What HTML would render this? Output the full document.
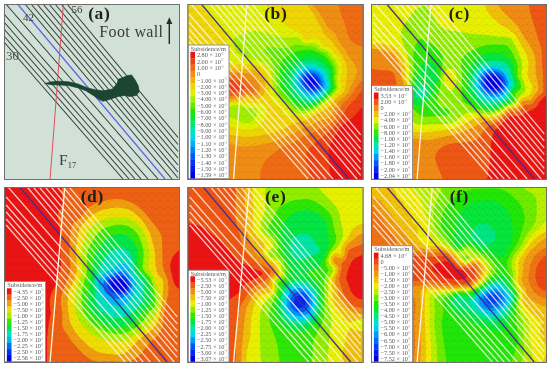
<!DOCTYPE html><html><head><meta charset="utf-8"><title>Subsidence</title><style>
html,body{margin:0;padding:0;background:#fff;}
body{width:550px;height:366px;overflow:hidden;}
svg{display:block;}
text{font-family:"Liberation Serif","DejaVu Serif",serif;}
.lab{font-size:17.5px;font-weight:bold;fill:#1e1e1e;letter-spacing:0.6px;}
.fw{font-size:16px;fill:#3a3a3a;letter-spacing:0.35px;}
.num{font-size:11px;fill:#3c3c3c;}
.num30{font-size:13px;fill:#4a4a4a;}
.fF{font-size:15.5px;fill:#3a3a3a;}
.fs{font-size:8.5px;}
.lt{font-size:6.3px;fill:#5a5a5a;}
.sp{font-size:3px;fill:#888;}
</style></head><body>
<svg width="550" height="366" viewBox="0 0 550 366">
<defs><clipPath id="clp"><rect x="0" y="0" width="176" height="176"/></clipPath>
<pattern id="mesh" width="8" height="7" patternUnits="userSpaceOnUse"><path d="M0,0H8M0,0L4,7L8,0M0,7H8" stroke="#000" stroke-opacity="0.05" stroke-width="0.45" fill="none"/><circle cx="0" cy="0" r="0.7" fill="#000" fill-opacity="0.12"/><circle cx="8" cy="0" r="0.7" fill="#000" fill-opacity="0.12"/><circle cx="4" cy="7" r="0.7" fill="#000" fill-opacity="0.12"/></pattern>
</defs>
<rect width="550" height="366" fill="#fff"/>
<g transform="translate(4,4)">
<rect x="0" y="0" width="176" height="176" fill="#d1e1d7"/>
<line x1="1.9" y1="0" x2="154" y2="175" stroke="#2f3a33" stroke-width="1.05"/>
<line x1="0" y1="10" x2="144" y2="175" stroke="#2f3a33" stroke-width="1.05"/>
<line x1="0" y1="18" x2="137" y2="175" stroke="#2f3a33" stroke-width="1.05"/>
<line x1="0" y1="25" x2="131" y2="175" stroke="#2f3a33" stroke-width="1.05"/>
<line x1="0" y1="32" x2="125" y2="175" stroke="#2f3a33" stroke-width="1.05"/>
<line x1="0" y1="38" x2="119" y2="175" stroke="#2f3a33" stroke-width="1.05"/>
<line x1="21" y1="0" x2="168" y2="175" stroke="#2f3a33" stroke-width="1.05"/>
<line x1="27" y1="0" x2="174" y2="174" stroke="#2f3a33" stroke-width="1.05"/>
<line x1="33" y1="0" x2="174" y2="168" stroke="#2f3a33" stroke-width="1.05"/>
<line x1="39" y1="0" x2="174" y2="161" stroke="#2f3a33" stroke-width="1.05"/>
<line x1="45" y1="0" x2="174" y2="154" stroke="#2f3a33" stroke-width="1.05"/>
<line x1="51" y1="0" x2="174" y2="147.5" stroke="#2f3a33" stroke-width="1.05"/>
<line x1="57" y1="0" x2="174" y2="140.5" stroke="#2f3a33" stroke-width="1.05"/>
<line x1="63" y1="0" x2="174" y2="133.5" stroke="#2f3a33" stroke-width="1.05"/>
<line x1="13.5" y1="0" x2="161" y2="175" stroke="#5868e8" stroke-width="1.2"/>
<line x1="59.4" y1="0" x2="46" y2="176" stroke="#e4505a" stroke-width="1"/>
<polygon points="40.8,79.5 47.5,77.8 55.1,77.2 64.6,77.8 74.2,80.1 83.7,83.9 91.3,85.8 99,86.8 108.5,84.9 113.3,79.1 114.2,75.3 119,73.4 123.8,71.5 127.6,70.9 131.4,76.3 134.3,82 135.2,87.7 132.4,91.5 125.7,92.5 120,91.5 114.2,92.5 108.5,94.4 102.8,96.3 99,97.3 95.2,95.4 89.4,91.5 81.8,86.8 74.2,83.9 64.6,81.6 55.1,81 47.5,80.7" fill="#1c4632" stroke="#163a28" stroke-width="0.6"/>
</g>
<text x="88.2" y="18.7" class="lab">(a)</text>
<text x="99.3" y="37.2" class="fw">Foot wall</text>
<line x1="169.3" y1="22" x2="169.3" y2="44" stroke="#2a2a2a" stroke-width="1.4"/>
<polygon points="169.3,17.3 166.3,24 172.3,24" fill="#2a2a2a"/>
<text x="71.5" y="13.2" class="num">56</text>
<text x="23" y="20.8" class="num">42</text>
<text x="6" y="60.3" class="num30">30</text>
<text x="59" y="165" class="fF">F<tspan class="fs" dy="2.6">17</tspan></text>
<g transform="translate(187.5,4)" clip-path="url(#clp)">
<rect x="-2" y="-2" width="181" height="181" fill="#eb1414"/>
<path fill="#ed4214" fill-rule="evenodd" d="M-2 -2l180 0 0 103 -5 3.9 -8.2 9.1 -8.8 5.7 -2.6 2.3 -10.8 19 -1.4 4 -.5 5 1.5 15 .7 13 -144.9 0 0 -180z"/>
<path fill="#ef6b14" fill-rule="evenodd" d="M-2 -2l180 0 0 85.7 -3 1.9 -6 8.4 -8.4 8 -6.4 11 -8.2 10.6 -4 3.8 -17.3 13.6 -2.9 3 -2 3 -1.6 4 -.1 5 4.6 15 .8 7 -125.5 0 0 -180zM42 76l-4 2 -2.2 3 -.2 2 .4 1.3 1.3 1.7 1.5 1 2.2 .7 10 1.1 3.4 -1.8 3 -3 -.2 -1 -1.5 -2 -4.4 -3 -5.3 -2 -4 0z"/>
<path fill="#f08e14" fill-rule="evenodd" d="M-2 -2l151.5 0 2.2 5 2.3 9 3.5 8 2.5 10 2.3 5 2.3 3 2.6 2 10.8 3.8 0 31.7 -4 1.7 -3 2.3 -7 11.5 -9.2 9 -3.5 6 -3.5 9 -1.8 2.6 -2 1.9 -3 1.9 -14 6.7 -11 4.3 -12 7 -10 4.2 -6.4 4.4 -7.2 6 -3.5 4 -2.7 5 -1.4 6 -.6 9 -74.2 0 0 -180zM38 71.9l-3.4 1.1 -3.9 2 -2.5 2 -2.1 3 -.6 3 .7 3 1.5 2 2.7 2 3.6 1.4 4 .8 12 .1 2 -.4 6 -3.5 7 .6 1.6 -1 .6 -1 .2 -3 -1 -2 -5.4 -5.1 -4 -2.8 -4 -1.3 -7 -1.3 -4 -.2 -4 .6z"/>
<path fill="#f0b10d" fill-rule="evenodd" d="M-2 -2l126.3 0 1.7 3.8 3.5 4.2 6.9 10 3.5 7 6.1 4.9 1.7 2.1 4 8 6.2 8 3.1 5.9 5.8 8.1 2.1 4 .7 3 -.5 3 -8.1 18 -3 3.9 -5.4 4.1 -1.9 2 -3.9 7 -2.8 6.5 -2 2.5 -3 1.2 -7 1.1 -8 5.1 -10 3.5 -8 4.5 -10 4.6 -13 4.7 -11 2.4 -17 1.4 -5 -.7 -11 -2.5 -15 -.7 -26 -3.3 0 -137.3zM38 68l-7 .8 -6 1.5 -5 2 -3.9 2.7 -3.2 4 -1.3 4 .5 4 1.7 3 3.2 2.6 4 1.8 5 1.1 6 .2 13 -1.3 7 -.1 2 -1 3 -2.3 2 -.6 6 1.5 2 -.1 2 -1 2.5 -2.8 1.1 -4 -.9 -5 -2.7 -4.3 -4 -3.3 -3.6 -1.4 -5.4 -.9 -11 -1.1 -7 0z"/>
<path fill="#f0d605" fill-rule="evenodd" d="M-2 -2l121.1 0 2.5 6 4.4 5.8 3 6.1 3 4.6 3.8 8.5 2.5 3 6 5 4.7 7.6 5.2 6.4 3.5 7 1.6 5 .4 5 -1.3 13 -1.6 6 -2.3 3 -6.5 4.9 -5 6.6 -5 4.5 -10.5 5 -8.5 5.3 -12 2.8 -12 6.3 -6 2.4 -21 4.7 -10 .7 -6 -.7 -14 -2.6 -6 -1.8 -5 -2.3 -5.3 -3.8 -1.8 -2 -1.7 -3 -.8 -3 .1 -2 1.2 -3 1.5 -2 2.4 -2 5.3 -3 7.3 -3 6.3 -2 3.5 -.6 8 -.2 2 -.8 4 -2.7 1.9 .3 3.1 1.7 2 .5 4 -.5 3 -1.3 2.6 -2.4 1.7 -4 .5 -5 -1 -7 -1 -3 -2.5 -3 -4.3 -2.5 -4 -1.3 -10 -.1 -19 -1.2 -24 -2.9 -6 .2 -8 1.4 0 -64.6z"/>
<path fill="#dff000" fill-rule="evenodd" d="M13.4 -2l64.4 0 1.2 2.9 1.7 2.1 6.3 6.1 7.4 8.9 5.6 4.8 3 1.7 8 2.9 2 1.6 3.4 5 1.6 1.4 2 .2 7 -1.8 3 .7 2 1.8 2.8 4.7 6.2 2 2.4 2 8 10 1.6 3 1.2 4 .2 5 -1.7 9 .9 8 -1 3 -10.6 10.3 -9 7.2 -13 7.2 -4 1.2 -5 .4 -9 -1 -5.2 -1.3 -.9 -1 -1.1 -4 -1.3 -2 -7.5 -4.6 -2 -2.4 -1.3 -5 -1.9 -19 -1.4 -4 -2.4 -3.2 -4 -2.7 -7 -2.6 -4 -.5 -8 .3 -13 -1.5 -5 -1.6 -2.9 -2.2 -1 -2 .2 -2 4.7 -7.7 1.8 -4.3 .3 -3 -.9 -4 -2.2 -3.9 -7 -6.4 -6.4 -8.7 -6.1 -7 -2.2 -4 -.9 -4zM42.7 99l4.3 -.7 10 .2 14 1 4 .9 3 1.6 1.3 2 .3 3 -.8 4 -1.3 3 -3.1 5 -2.9 3 -3 2 -3.5 1.4 -5 .8 -4 -.3 -4 -1 -15 -5.3 -3.4 -2.6 -1.9 -3 -.3 -4 1.8 -4 4 -4 5.5 -3z"/>
<path fill="#a4ef00" fill-rule="evenodd" d="M62.7 28l5.3 -.9 4 .3 25 6.2 3 .1 6 -.7 3 .2 2 .9 4 3.8 2 1.1 2 .3 8 -.5 2 1.1 3.9 4.1 5.1 1.4 2 1.1 8.4 10.5 2.2 5 .4 5 -1.3 8 1.2 8 -.3 2 -1.1 2 -9.5 9.3 -9 7 -6 3.4 -6 2.4 -5 .7 -5 -.7 -4 -2 -6 -7 -8 -5.9 -3 -3.8 -1.8 -5.4 -2.5 -16 -1.6 -4 -2.1 -3.1 -4 -3.2 -5 -2.3 -17 -4.5 -3.1 -1.9 -2.7 -3 -1.2 -3.2 -.9 -5.8 .1 -3 .8 -1.8 3 -1.8 12.7 -3.4zM45.7 101l5.5 0 8.8 2.7 7.4 1.3 1.4 1 .8 2 -.1 2 -1.2 3 -3.3 4.1 -2 1.4 -3 .8 -4 -.5 -12.2 -4.8 -1.8 -1.1 -1.7 -1.9 -.7 -2 .1 -2 .8 -2 1.6 -2 3.6 -2z"/>
<path fill="#63eb00" fill-rule="evenodd" d="M107.5 41l2.5 -.4 7 1.7 8 .1 2 .8 5 3.2 5.1 1.6 2.4 2 6.1 8 1.6 3 .9 3 .2 3 -.8 8 1.4 7 -.2 2 -.8 2 -7.9 8.2 -9 7.2 -6 3.3 -7 2.1 -3 .2 -3 -.4 -5 -2.3 -12.7 -12.3 -2.5 -3 -2.4 -6 -2.2 -17 -1.7 -7 -2.9 -6 -6.2 -7 -.4 -1 .9 -1 1.1 -.4 5 -.9 10 1.2 6 -.1 4 -.8 4.5 -2z"/>
<path fill="#1ce709" fill-rule="evenodd" d="M116.4 46l5.6 -.2 3 .5 10 4.1 3 2.4 5 6.2 2.2 4 .8 4 -.3 8 1.6 7 -.8 3 -2.3 3 -5.2 5.2 -8 6.5 -6 3.1 -8 1.6 -5 -.9 -5 -2.8 -3 -2.8 -8 -9.1 -2 -3.2 -1.2 -3.6 -1 -11 1 -10 1.2 -3.3 1.9 -2.7 4.1 -3 9 -4.5 3 -1 4.4 -.5z"/>
<path fill="#07e638" fill-rule="evenodd" d="M120.5 50l5.5 .6 7 2.9 4 3 4 4.3 1.4 2.2 1.2 3 .3 8 1.8 8 -1 3 -2.4 3 -4.3 4.4 -7 5.7 -5 2.6 -4 .8 -4 .2 -4 -.8 -4 -1.8 -3.1 -2.1 -2.7 -3 -6.5 -10 -1 -4 -.3 -7 .5 -4 1.4 -4 2.5 -4 2.7 -3 4.5 -3.5 4 -2.4 4 -1.4 4.5 -.7z"/>
<path fill="#00e675" fill-rule="evenodd" d="M120.5 55l4.5 .2 5 1.6 5 2.7 4 3.4 2.4 4.1 1 8 1.8 6 -.3 2 -1 2 -5.3 6 -8.6 6.8 -5 1.4 -4 -.2 -3.9 -1 -4.1 -1.8 -3 -2.1 -2.5 -3.1 -3.5 -6 -1.1 -3 -.5 -3 -.1 -4 .7 -4 1.5 -4 2 -3 3.5 -3.7 4 -2.8 4 -1.8 3.5 -.7z"/>
<path fill="#00e4b6" fill-rule="evenodd" d="M117 60l3 -.7 4 -.1 7 2 3.4 1.8 2.6 2.1 1.5 1.9 1.2 3 2.5 10 .1 2 -.7 2 -2.9 4 -2.7 2.6 -6 4.5 -3 1.5 -3 .3 -3 -.6 -4 -1.5 -4 -2.3 -4.2 -4.5 -2.2 -4 -1 -3 -.5 -3 .2 -4 .7 -3 1.3 -3 4.3 -5 5.4 -3z"/>
<path fill="#00d8ea" fill-rule="evenodd" d="M117.3 63l5.7 -.8 3 .3 4 1.3 5 3.3 1.6 1.9 1.3 3 2.2 8 0 2 -.6 2 -1.9 3 -2.6 2.6 -7 4.2 -2 .5 -3 -.3 -4 -1.3 -3 -1.7 -4.4 -4 -2.8 -5 -.9 -6 1 -5 1.7 -3 1.7 -2 5 -3z"/>
<path fill="#00b1f3" fill-rule="evenodd" d="M118.6 65l4.4 -.5 5 1 4.4 2.5 3.3 4 2.2 7 -.1 4 -2.3 4 -4.5 3.3 -5 1.5 -5 -.8 -5.2 -3 -2.1 -2 -2 -3 -1.1 -3 -.5 -3 .8 -5 1.1 -2.1 2 -2.4 4.6 -2.5z"/>
<path fill="#0086f5" fill-rule="evenodd" d="M118.9 67l4.1 -.5 4 .7 4 2.3 3 3.5 1.8 5 .2 4 -1.1 3 -2.9 2.9 -4 1.6 -5 0 -5 -2.3 -4 -4.2 -1.8 -5 .5 -5 2.3 -3.7 3.9 -2.3z"/>
<path fill="#005bf5" fill-rule="evenodd" d="M118.9 69l3.1 -.7 4 .5 3 1.5 2.9 2.7 1.6 3 .8 4 -.5 3 -2.2 3 -3.6 1.7 -4 .1 -4 -1.5 -3.8 -3.3 -1.9 -4 -.2 -4 .6 -2 1.3 -2 2.9 -2z"/>
<path fill="#0038f2" fill-rule="evenodd" d="M119.1 71l2.9 -.9 3 .3 3 1.3 2.4 2.3 1.6 3 .5 3 -.8 3 -1.7 1.9 -3 1.1 -3 0 -3 -1.1 -3.3 -2.9 -1.6 -3 -.3 -3 1.1 -3 2.2 -2z"/>
<path fill="#001aed" fill-rule="evenodd" d="M119.8 73l2.2 -.9 2 0 2.5 .9 2.4 2 1.2 2 .4 2 -.2 2 -1.3 2 -2 1 -2 .2 -3 -.9 -2 -1.4 -1.4 -1.9 -.8 -3 .4 -2 1.6 -2z"/>
<path fill="#0000e6" fill-rule="evenodd" d="M121.7 75l2.3 -.4 2.7 1.4 1.3 3 -.9 2 -1.1 .6 -2 0 -2.5 -1.6 -.7 -1 -.3 -2 1.2 -2z"/>
<rect x="0" y="0" width="176" height="176" fill="url(#mesh)"/>
<g transform="translate(1.5,0)">
<line x1="1.9" y1="0" x2="154" y2="175" stroke="#fff6f0" stroke-width="1.25" stroke-opacity="0.8"/>
<line x1="0" y1="10" x2="144" y2="175" stroke="#fff6f0" stroke-width="1.25" stroke-opacity="0.8"/>
<line x1="0" y1="18" x2="137" y2="175" stroke="#fff6f0" stroke-width="1.25" stroke-opacity="0.8"/>
<line x1="0" y1="25" x2="131" y2="175" stroke="#fff6f0" stroke-width="1.25" stroke-opacity="0.8"/>
<line x1="0" y1="32" x2="125" y2="175" stroke="#fff6f0" stroke-width="1.25" stroke-opacity="0.8"/>
<line x1="0" y1="38" x2="119" y2="175" stroke="#fff6f0" stroke-width="1.25" stroke-opacity="0.8"/>
<line x1="21" y1="0" x2="168" y2="175" stroke="#fff6f0" stroke-width="1.25" stroke-opacity="0.8"/>
<line x1="27" y1="0" x2="171.7" y2="171.3" stroke="#fff6f0" stroke-width="1.25" stroke-opacity="0.8"/>
<line x1="33" y1="0" x2="171.7" y2="165.3" stroke="#fff6f0" stroke-width="1.25" stroke-opacity="0.8"/>
<line x1="39" y1="0" x2="171.7" y2="158.3" stroke="#fff6f0" stroke-width="1.25" stroke-opacity="0.8"/>
<line x1="45" y1="0" x2="171.7" y2="151.3" stroke="#fff6f0" stroke-width="1.25" stroke-opacity="0.8"/>
<line x1="51" y1="0" x2="171.7" y2="144.8" stroke="#fff6f0" stroke-width="1.25" stroke-opacity="0.8"/>
<line x1="57" y1="0" x2="171.7" y2="137.8" stroke="#fff6f0" stroke-width="1.25" stroke-opacity="0.8"/>
<line x1="63" y1="0" x2="171.7" y2="130.8" stroke="#fff6f0" stroke-width="1.25" stroke-opacity="0.8"/>
</g>
<line x1="13.8" y1="0" x2="161.3" y2="175" stroke="#4a2a9a" stroke-width="1.3"/>
<line x1="59.4" y1="0" x2="46" y2="176" stroke="#fff6e0" stroke-width="1.3"/>
</g>
<rect x="188" y="45" width="41" height="133.7" fill="#fff" stroke="#8a8a8a" stroke-width="0.9"/>
<text x="190.7" y="50.6" class="lt">Subsidence/m</text>
<rect x="190.4" y="51.8" width="4.6" height="6.6" fill="#eb1414"/>
<text x="196.9" y="57.2" class="lt">2.80 × 10<tspan class="sp" dy="-2.2">-2</tspan></text>
<rect x="190.4" y="58.2" width="4.6" height="6.6" fill="#ed4214"/>
<text x="196.9" y="63.5" class="lt">2.00 × 10<tspan class="sp" dy="-2.2">-2</tspan></text>
<rect x="190.4" y="64.5" width="4.6" height="6.6" fill="#ef6b14"/>
<text x="196.9" y="69.8" class="lt">1.00 × 10<tspan class="sp" dy="-2.2">-2</tspan></text>
<rect x="190.4" y="70.8" width="4.6" height="6.6" fill="#f08e14"/>
<text x="196.9" y="76.2" class="lt">0</text>
<rect x="190.4" y="77.1" width="4.6" height="6.6" fill="#f0b10d"/>
<text x="196.9" y="82.5" class="lt">−1.00 × 10<tspan class="sp" dy="-2.2">-2</tspan></text>
<rect x="190.4" y="83.4" width="4.6" height="6.6" fill="#f0d605"/>
<text x="196.9" y="88.8" class="lt">−2.00 × 10<tspan class="sp" dy="-2.2">-2</tspan></text>
<rect x="190.4" y="89.8" width="4.6" height="6.6" fill="#dff000"/>
<text x="196.9" y="95.1" class="lt">−3.00 × 10<tspan class="sp" dy="-2.2">-2</tspan></text>
<rect x="190.4" y="96.1" width="4.6" height="6.6" fill="#a4ef00"/>
<text x="196.9" y="101.4" class="lt">−4.00 × 10<tspan class="sp" dy="-2.2">-2</tspan></text>
<rect x="190.4" y="102.4" width="4.6" height="6.6" fill="#63eb00"/>
<text x="196.9" y="107.8" class="lt">−5.00 × 10<tspan class="sp" dy="-2.2">-2</tspan></text>
<rect x="190.4" y="108.7" width="4.6" height="6.6" fill="#1ce709"/>
<text x="196.9" y="114.1" class="lt">−6.00 × 10<tspan class="sp" dy="-2.2">-2</tspan></text>
<rect x="190.4" y="115" width="4.6" height="6.6" fill="#07e638"/>
<text x="196.9" y="120.4" class="lt">−7.00 × 10<tspan class="sp" dy="-2.2">-2</tspan></text>
<rect x="190.4" y="121.4" width="4.6" height="6.6" fill="#00e675"/>
<text x="196.9" y="126.7" class="lt">−8.00 × 10<tspan class="sp" dy="-2.2">-2</tspan></text>
<rect x="190.4" y="127.7" width="4.6" height="6.6" fill="#00e4b6"/>
<text x="196.9" y="133" class="lt">−9.00 × 10<tspan class="sp" dy="-2.2">-2</tspan></text>
<rect x="190.4" y="134" width="4.6" height="6.6" fill="#00d8ea"/>
<text x="196.9" y="139.4" class="lt">−1.00 × 10<tspan class="sp" dy="-2.2">-1</tspan></text>
<rect x="190.4" y="140.3" width="4.6" height="6.6" fill="#00b1f3"/>
<text x="196.9" y="145.7" class="lt">−1.10 × 10<tspan class="sp" dy="-2.2">-1</tspan></text>
<rect x="190.4" y="146.6" width="4.6" height="6.6" fill="#0086f5"/>
<text x="196.9" y="152" class="lt">−1.20 × 10<tspan class="sp" dy="-2.2">-1</tspan></text>
<rect x="190.4" y="153" width="4.6" height="6.6" fill="#005bf5"/>
<text x="196.9" y="158.3" class="lt">−1.30 × 10<tspan class="sp" dy="-2.2">-1</tspan></text>
<rect x="190.4" y="159.3" width="4.6" height="6.6" fill="#0038f2"/>
<text x="196.9" y="164.6" class="lt">−1.40 × 10<tspan class="sp" dy="-2.2">-1</tspan></text>
<rect x="190.4" y="165.6" width="4.6" height="6.6" fill="#001aed"/>
<text x="196.9" y="171" class="lt">−1.50 × 10<tspan class="sp" dy="-2.2">-1</tspan></text>
<rect x="190.4" y="171.9" width="4.6" height="6.6" fill="#0000e6"/>
<text x="196.9" y="177.3" class="lt">−1.59 × 10<tspan class="sp" dy="-2.2">-1</tspan></text>
<text x="275.8" y="19" class="lab" text-anchor="middle">(b)</text>
<g transform="translate(371,4)" clip-path="url(#clp)">
<rect x="-2" y="-2" width="181" height="181" fill="#eb1414"/>
<path fill="#ee5714" fill-rule="evenodd" d="M-2 -2l180 0 0 87.7 -3 5.6 -5.9 5.7 -3 5 -2.1 2.3 -2 1.2 -5 1.9 -7 4.3 -3 .5 -6 -.5 -2 .6 -11.6 10.7 -3.8 4 -2 4 -1.1 5 -2 24 -2.6 18 -117.9 0 0 -180z"/>
<path fill="#f08b14" fill-rule="evenodd" d="M-2 -2l159.2 0 2.6 13 9.7 31 1.2 5 .2 12 1.2 11 0 9 .5 5 -.7 4 -1.7 2 -4.2 3.2 -3 4.9 -2 2 -2 .7 -4 -.3 -1.8 .5 -3.2 4.5 -3 2 -2 .2 -4 -.5 -2 .4 -11 9.4 -11.7 6 -3 3 -4.3 6.7 -4 3.3 -5 1.5 -11 1 -11 1.6 -5 1.9 -4.3 3 -2 2 -1.8 3 -.5 2 -.1 3 1 4 4.9 12 2 7 -74.2 0 0 -77 10.8 -9 14.4 -9 1.8 -2 .5 -2 -1.5 -7.1 -1 -2.2 -2 -2 -3 -1.1 -10 -.7 -10 -1.7 0 -66.2z"/>
<path fill="#f0bf0a" fill-rule="evenodd" d="M-2 -2l127.9 0 1.1 3 2.9 4 6.4 7 7.7 7.2 3 3.5 6 10.2 5.5 8.1 3.2 6 1.9 5 .9 4 .2 13 2.7 14 -.1 2 -.7 2 -6.6 8.7 -2 .9 -4 -.2 -2 .5 -2 2 -2.1 4.1 -1.9 1.5 -7.1 .5 -1.9 1 -7 6.2 -4 2.5 -3 1.2 -8 1.3 -5 1.5 -10 5.7 -12 5.1 -27 5.9 -5 .7 -12 -1.5 -14 .5 -5 -.9 -4 -1.6 -5 -3.8 -2.1 -2.8 -1.5 -3 -1.4 -7 .8 -8 2.4 -7 4.4 -7 5.1 -5 8.3 -5.2 .8 -.8 .2 -2 -2.1 -6 -.9 -9 -.9 -4 -3.1 -6.3 -3 -4.7 -3 -2.1 -10 -3.7 -12 -.5 0 -46.7z"/>
<path fill="#e8f000" fill-rule="evenodd" d="M-2 -2l114.6 0 3.6 9 3.2 5 9.6 8.4 10 5.9 3.4 2.7 2.4 3 8.8 15 2.3 5 1.3 5 .2 4 -.9 8 .2 3 1 3 2.8 5 .9 3 -.1 3 -1.3 3 -2.8 3 -5.2 1.7 -2 1.2 -3.8 6.1 -1.1 1 -6.1 1.1 -2 .9 -7 5.4 -4 2.4 -5 1.6 -12 -.1 -4.3 .7 -3.7 1.5 -12 6.7 -6 2.4 -7 1.4 -24 2.4 -9 -.9 -7 -2.9 -5.3 -3.6 -4.8 -5 -2.9 -5.2 -1.3 -5.8 .6 -6 2.8 -6 3.9 -4 6.5 -4 1.1 -2 -1.7 -9 -.6 -10 -1.2 -6 -2 -5 -2.3 -4 -2.8 -3.3 -3 -2.3 -14 -4.5 -11 .9 0 -41.8z"/>
<path fill="#90ee00" fill-rule="evenodd" d="M50.8 2l3.2 -.1 3 1.7 2 2.6 5.1 9.8 2.6 4 3.3 3.1 5 2.5 6 1.5 24 3.2 12 .7 10 1.5 8 .3 3 .8 3 2.2 2 3.1 3.9 8.1 3.5 9 .8 6 -.8 10 3.2 8 .9 4 -.1 2 -1 2 -5.4 5 -2.4 5 -1.6 1.9 -7 2.4 -9 5.9 -6 2.3 -5 .1 -13 -2 -5 0 -4 .8 -4 2 -4.8 4.6 -3.2 2.2 -4 1.4 -5 .7 -13 -.1 -9 .9 -5 -.7 -4 -2.4 -6 -7 -6.4 -5 -1.6 -2 -1.3 -3 -.2 -3 .6 -3 2.3 -4 2.2 -2 4.7 -3 .9 -1 .6 -2 -.6 -6 .3 -11 -.5 -7 -1.7 -7 -6 -19 -.5 -3 .4 -3 2.6 -6 8.2 -11.5 5 -5 4.8 -2.5zM77 65l-2 1.6 -2 3.3 -.5 2.1 .1 3 1.4 5.4 2 4.3 2 1.8 2 .3 2 -1.1 2.4 -3.7 1.2 -4 .1 -5 -1 -4 -1.9 -3 -2.8 -1.6 -3 .6z"/>
<path fill="#2de807" fill-rule="evenodd" d="M48.1 36l1.9 -.8 2 0 4 1.8 11 8 2.7 3 1.7 3 .7 5 -2.4 13 -.2 12 -2.9 14 -.2 3 .6 2.1 1.7 1.9 7.2 3 1.3 1 .8 1.2 .1 1.8 -.4 1 -1.7 1.3 -21 1.5 -4 -.4 -3 -1.7 -6 -5.7 -8 -3.8 -2.2 -3.2 -.3 -3 1.1 -3 1.7 -2 4.7 -3.3 1.6 -2.7 .2 -7 1.5 -7 .6 -6 -.6 -11 .4 -5 .8 -4 1.5 -4 3.1 -4zM115.5 41l5.5 -.5 11 .2 3 .6 3 2.2 4 6.5 4 9 .9 4 -.3 9 .6 2 2.5 5 .4 2 0 2 -.8 2 -5 5 0 5 -1.4 3 -6.9 3.1 -9 5 -4 1.4 -3 .4 -4 -.2 -4 -1 -9.9 -3.7 -6.4 -3 -2.6 -2 -1.5 -2 -1.1 -5 .8 -19 -1.2 -12 .9 -5 2.9 -4 5.8 -4 7.3 -3.6 8.5 -2.4z"/>
<path fill="#03e644" fill-rule="evenodd" d="M119.5 49l5.5 -.1 6 1.1 4 2 4 3.8 2.4 3.2 1.4 3 .9 10 3 7 .3 2 -1 2.5 -4.8 5.5 -.4 2 .7 4 -1.2 2 -13.3 6.4 -5 1.2 -4 .3 -4 -.7 -4.7 -2.2 -5.9 -4 -3.1 -3 -2 -3 -1.3 -3.6 -.8 -4.4 -.2 -5 .5 -6 1.4 -7 1.6 -4 1.9 -3 3.6 -3.6 5 -3.4 5 -2.1 4.5 -.9zM53.6 58l2.4 -.5 4 .4 2 .8 2 1.9 1 2.2 .6 3.2 .7 6 -.1 4 -4.7 14 -1.5 3 -8.2 8 -1.8 1 -2 .3 -10.8 -4.3 -1.9 -2 -.4 -2 1.3 -3 4.3 -3 1.8 -2 1.7 -8 5.6 -15 1.5 -3 2.5 -2z"/>
<path fill="#00e6a4" fill-rule="evenodd" d="M116.8 57l4.2 -.6 6 .4 5 1.3 4 2.4 2 2.1 1 1.9 2.1 8.5 2.3 6 -.4 3 -4.1 7 -1.5 6 -2.4 1.6 -5 2.3 -6 1.7 -5 .5 -3 -.4 -2.1 -.7 -3.1 -2 -3.3 -3 -3.3 -4 -2 -4 -1.1 -4 -.4 -4 .3 -4 1 -4 2 -4.3 2 -2.8 3 -2.9 4 -2.5 3.8 -1.5zM50.8 81l2.2 -.3 2.2 1.3 1.3 3 -.2 4 -1.3 2.2 -3 2.2 -3 .9 -2.1 -.3 -2.2 -1 -.7 -1 3.1 -8 1.9 -2.2 1.8 -.8z"/>
<path fill="#00d5f0" fill-rule="evenodd" d="M116.2 62l5.8 -.8 8 1.5 4 2.7 3 4.6 2.7 7 .3 4 -1 3 -3.6 7 -1.4 1.8 -2 1.3 -4 1.6 -4 .7 -4 -.1 -4 -.9 -3 -1.5 -2 -1.6 -4.7 -6.3 -1.2 -3 -.6 -4 .3 -4 .8 -3 1.5 -3 2.4 -3 3.5 -2.6 3.2 -1.4z"/>
<path fill="#0097f5" fill-rule="evenodd" d="M116.7 65l5.3 -.7 6 1.2 4 2.6 3.5 4.9 1.7 5 -.4 5 -2.8 5.5 -2 1.9 -2 1.2 -3 1.1 -3 .5 -7 -1.1 -4 -2.4 -2.4 -2.7 -1.9 -3 -1.3 -5 .1 -3 .7 -3 1.6 -3 1.8 -2 5.1 -3z"/>
<path fill="#0058f5" fill-rule="evenodd" d="M119 67l5 .1 4 1.4 4 3.5 2.2 4 .7 4 -1 4 -1.9 3 -4 2.7 -5 .8 -6 -1.4 -3.9 -3.1 -2.5 -4 -.8 -5 1.2 -4.2 1.2 -1.8 2.1 -2 4.7 -2z"/>
<path fill="#0026f0" fill-rule="evenodd" d="M117.5 70l3.5 -.7 4 .6 3 1.6 2.4 2.5 1.6 3.1 .3 3.9 -1.2 3 -2.1 2.3 -4 1.7 -4 -.2 -4 -1.6 -3 -3 -1.5 -3.2 -.1 -4 1.6 -3.4 3.5 -2.6z"/>
<path fill="#0000e6" fill-rule="evenodd" d="M121 72l3 .5 2 .9 1.8 1.6 1.2 2 .5 3 -.5 2 -1 1.4 -2 1.4 -3 .5 -3 -.6 -3 -2.1 -1.6 -2.6 -.3 -3 .9 -2.4 2 -1.8 3 -.8z"/>
<rect x="0" y="0" width="176" height="176" fill="url(#mesh)"/>
<g transform="translate(2.2,0)">
<line x1="1.9" y1="0" x2="154" y2="175" stroke="#fff6f0" stroke-width="1.25" stroke-opacity="0.8"/>
<line x1="0" y1="10" x2="144" y2="175" stroke="#fff6f0" stroke-width="1.25" stroke-opacity="0.8"/>
<line x1="0" y1="18" x2="137" y2="175" stroke="#fff6f0" stroke-width="1.25" stroke-opacity="0.8"/>
<line x1="0" y1="25" x2="131" y2="175" stroke="#fff6f0" stroke-width="1.25" stroke-opacity="0.8"/>
<line x1="0" y1="32" x2="125" y2="175" stroke="#fff6f0" stroke-width="1.25" stroke-opacity="0.8"/>
<line x1="0" y1="38" x2="119" y2="175" stroke="#fff6f0" stroke-width="1.25" stroke-opacity="0.8"/>
<line x1="21" y1="0" x2="168" y2="175" stroke="#fff6f0" stroke-width="1.25" stroke-opacity="0.8"/>
<line x1="27" y1="0" x2="171" y2="170.4" stroke="#fff6f0" stroke-width="1.25" stroke-opacity="0.8"/>
<line x1="33" y1="0" x2="171" y2="164.4" stroke="#fff6f0" stroke-width="1.25" stroke-opacity="0.8"/>
<line x1="39" y1="0" x2="171" y2="157.4" stroke="#fff6f0" stroke-width="1.25" stroke-opacity="0.8"/>
<line x1="45" y1="0" x2="171" y2="150.4" stroke="#fff6f0" stroke-width="1.25" stroke-opacity="0.8"/>
<line x1="51" y1="0" x2="171" y2="143.9" stroke="#fff6f0" stroke-width="1.25" stroke-opacity="0.8"/>
<line x1="57" y1="0" x2="171" y2="136.9" stroke="#fff6f0" stroke-width="1.25" stroke-opacity="0.8"/>
<line x1="63" y1="0" x2="171" y2="129.9" stroke="#fff6f0" stroke-width="1.25" stroke-opacity="0.8"/>
</g>
<line x1="15.7" y1="0" x2="163.2" y2="175" stroke="#4a2a9a" stroke-width="1.3"/>
<line x1="59.9" y1="0" x2="46" y2="176" stroke="#fff6e0" stroke-width="1.3"/>
</g>
<rect x="371.5" y="85.7" width="41" height="93.5" fill="#fff" stroke="#8a8a8a" stroke-width="0.9"/>
<text x="374.2" y="91.3" class="lt">Subsidence/m</text>
<rect x="373.9" y="92.5" width="4.6" height="6.5" fill="#eb1414"/>
<text x="380.4" y="97.8" class="lt">3.53 × 10<tspan class="sp" dy="-2.2">-2</tspan></text>
<rect x="373.9" y="98.7" width="4.6" height="6.5" fill="#ee5714"/>
<text x="380.4" y="104" class="lt">2.00 × 10<tspan class="sp" dy="-2.2">-2</tspan></text>
<rect x="373.9" y="104.8" width="4.6" height="6.5" fill="#f08b14"/>
<text x="380.4" y="110.1" class="lt">0</text>
<rect x="373.9" y="111" width="4.6" height="6.5" fill="#f0bf0a"/>
<text x="380.4" y="116.2" class="lt">−2.00 × 10<tspan class="sp" dy="-2.2">-2</tspan></text>
<rect x="373.9" y="117.1" width="4.6" height="6.5" fill="#e8f000"/>
<text x="380.4" y="122.4" class="lt">−4.00 × 10<tspan class="sp" dy="-2.2">-2</tspan></text>
<rect x="373.9" y="123.3" width="4.6" height="6.5" fill="#90ee00"/>
<text x="380.4" y="128.5" class="lt">−6.00 × 10<tspan class="sp" dy="-2.2">-2</tspan></text>
<rect x="373.9" y="129.4" width="4.6" height="6.5" fill="#2de807"/>
<text x="380.4" y="134.7" class="lt">−8.00 × 10<tspan class="sp" dy="-2.2">-2</tspan></text>
<rect x="373.9" y="135.6" width="4.6" height="6.5" fill="#03e644"/>
<text x="380.4" y="140.8" class="lt">−1.00 × 10<tspan class="sp" dy="-2.2">-1</tspan></text>
<rect x="373.9" y="141.7" width="4.6" height="6.5" fill="#00e6a4"/>
<text x="380.4" y="147" class="lt">−1.20 × 10<tspan class="sp" dy="-2.2">-1</tspan></text>
<rect x="373.9" y="147.9" width="4.6" height="6.5" fill="#00d5f0"/>
<text x="380.4" y="153.1" class="lt">−1.40 × 10<tspan class="sp" dy="-2.2">-1</tspan></text>
<rect x="373.9" y="154" width="4.6" height="6.5" fill="#0097f5"/>
<text x="380.4" y="159.3" class="lt">−1.60 × 10<tspan class="sp" dy="-2.2">-1</tspan></text>
<rect x="373.9" y="160.2" width="4.6" height="6.5" fill="#0058f5"/>
<text x="380.4" y="165.4" class="lt">−1.80 × 10<tspan class="sp" dy="-2.2">-1</tspan></text>
<rect x="373.9" y="166.3" width="4.6" height="6.5" fill="#0026f0"/>
<text x="380.4" y="171.6" class="lt">−2.00 × 10<tspan class="sp" dy="-2.2">-1</tspan></text>
<rect x="373.9" y="172.5" width="4.6" height="6.5" fill="#0000e6"/>
<text x="380.4" y="177.8" class="lt">−2.04 × 10<tspan class="sp" dy="-2.2">-1</tspan></text>
<text x="459.3" y="19" class="lab" text-anchor="middle">(c)</text>
<g transform="translate(4,187)" clip-path="url(#clp)">
<rect x="-2" y="-2" width="181" height="181" fill="#eb1414"/>
<path fill="#ee6114" fill-rule="evenodd" d="M57 -2l121 0 0 63.5 -5 3.3 -3.7 4.2 -2.3 5 -.8 5 .4 4 3.4 13.3 3 4.2 2 1.6 3 1.4 0 74.5 -135 0 .1 -27 1.8 -16 2 -9 -1.1 -8 .2 -6 1.6 -6 3.6 -7 1.4 -8 3.4 -7 1.2 -5 -.9 -13 .3 -23 -2.9 -13 .6 -4 4 -8 .6 -3 -1.9 -17z"/>
<path fill="#f09e10" fill-rule="evenodd" d="M103.1 13l8.9 -.9 6 .2 7 2.1 5 2.3 5 3.6 6 5.7 12.7 16 3 5 1.3 4 .6 27 1.2 5 3.4 8 1 6 .4 6 -.3 4 -4.8 22 -.9 10 -1.9 5 -3.7 5 -10 10 -6.3 8 -2.7 2.8 -5 3.2 -7 1.9 -4 .1 -9 -.7 -14 .4 -5 -.9 -5 -2.2 -5.9 -4.6 -11.7 -13 -7.3 -11 -1.3 -3 -.7 -3 .2 -11 -1.3 -9 -.1 -5 1 -5 6.6 -17 1.8 -7 .2 -5 -1 -9 -.1 -8 1 -14 1.2 -7 2.3 -4 7.1 -5.6 5 -7.2 3.2 -3.2 4.8 -2.8 13.1 -4.2z"/>
<path fill="#f0dd04" fill-rule="evenodd" d="M106.6 21l8.4 -.5 6 1 4 1.3 4 2.2 4 3.2 4 3.9 3.1 3.9 5.8 10 3.8 13 1.4 8 .4 11 1.9 8 .8 2 4.3 4 .9 4 -.4 10 -2.1 16 -3.1 12 -1.8 4 -2.5 3 -5.5 4.9 -9.5 7.1 -11.5 11.7 -4.6 2.3 -5.4 1.1 -15 -2 -5 -1.7 -8 -5 -9 -8.6 -4.7 -5.8 -4.6 -8 -1.3 -5 -1.9 -14 .3 -9 .8 -5 5.7 -11 2.1 -8 .6 -7 -1.2 -10 .2 -7 1.9 -13 2.1 -7 2.8 -4 10.3 -10 8.9 -3.9 8.6 -2.1z"/>
<path fill="#aaf000" fill-rule="evenodd" d="M109.7 30l10.3 0 6 1.7 3.9 2.3 3.1 2.5 3 3.1 2.5 3.4 4.1 10 2.5 11 .4 5 -1.3 9 .3 3 4 7 2.3 7 2.9 5 .9 5 .2 12 -.5 4 -6.3 13.1 -9.7 8.9 -10.3 6.8 -7 3.7 -5 1 -11 -.7 -6 -1.4 -7 -2.6 -7 -4.8 -6 -5.6 -4.5 -6.4 -2.7 -7 -1.3 -8 1.1 -14 4.3 -11 1.8 -8 .4 -7 -1.1 -10 .3 -4 1.7 -7.1 3.1 -8.9 1.5 -3 2.2 -3 7.2 -6.5 4 -2 6 -2.1 6.7 -1.4z"/>
<path fill="#36e806" fill-rule="evenodd" d="M110.5 38l6.5 -.4 7 1.5 6 3.6 4 4.9 3.9 9.4 1.5 6 .3 5 -1.1 11 .4 3 1.1 2 4.9 4.7 2 3 3.4 11.3 .8 7 .1 7 -.8 3 -1.5 1.8 -4.1 3.2 -3.5 6 -3.3 4 -5.1 4.7 -5 3.3 -6 2.8 -6 1.2 -6 -.3 -7 -1.4 -5 -1.9 -4 -2.7 -8.2 -6.7 -3.8 -4.5 -3.3 -6.5 -1.3 -7 .8 -14 4.3 -15 .8 -7 -.2 -12 .8 -4 1.4 -4 4.8 -9 5.9 -6.8 3 -2.2 3 -1.6 8.5 -2.4z"/>
<path fill="#01e64b" fill-rule="evenodd" d="M114.4 47l4.6 .3 5 1.9 4 3.4 3 4.6 2.2 4.8 1 4 .1 12 .5 4 2.2 4 5.5 5 2.1 3 2.9 15 -.5 4.5 -1.5 3.5 -5.6 6 -8.2 10 -3.7 2.9 -5 2.7 -4 1.5 -4 .7 -7 -.9 -6 -1.8 -3.3 -2.1 -5.8 -5 -4 -4 -2.6 -4 -1.8 -5 -.6 -5 2.6 -21 2.2 -10 1.8 -12 1.7 -5 4.8 -7.6 5.1 -5.4 5.9 -3.5 6.4 -1.5z"/>
<path fill="#00e2ba" fill-rule="evenodd" d="M112.6 62l4.4 -.8 3 .4 3 1.6 3 3.1 2.2 4.7 2.1 11 1 3 1.7 2.8 5.7 6.2 .9 2 .4 3 -1.2 13 -1.3 3 -2.9 4 -4.8 5 -4.8 3.4 -7 2.8 -5 .8 -5 -.6 -4 -1.6 -5.5 -3.8 -3.8 -4 -1.6 -3 -1.1 -4 -1.8 -17 .3 -4 1.5 -4.6 9 -17.4 2 -2.6 3 -2.8 3 -2 3.6 -1.6z"/>
<path fill="#00b9f2" fill-rule="evenodd" d="M114.9 77l2.1 -.7 2 .1 2 .8 2 1.8 2.5 4 5.7 12 .7 3 -.3 3 -1.8 6 -3.8 6.3 -4 3.7 -3 1.3 -3 .4 -4 -.2 -5 -1 -3 -1.3 -2.8 -2.2 -2.2 -2.9 -2.1 -4.1 -2 -6 -.7 -4 .1 -2 1.1 -3 3.6 -4.9 3 -2.1 6.5 -3 6.4 -5z"/>
<path fill="#006ff5" fill-rule="evenodd" d="M114 85l4 -1 2 .5 2 1.4 2 2.4 2.1 3.7 1.4 3 .6 3 -.7 4 -2.4 4.5 -7 4.7 -4 .9 -5 -1.1 -5.2 -3 -1.8 -2 -1.8 -3 -1.1 -5 .7 -4 2.5 -4 2.7 -1.8 9 -3.2z"/>
<path fill="#002ff1" fill-rule="evenodd" d="M112.4 89l3.6 -.6 3 .4 3 2.1 2 2.7 1.4 3.4 0 3 -1.4 3.8 -2 1.7 -5 1.8 -4 .1 -5 -2.2 -3.5 -3.2 -1.3 -4 .3 -3 .8 -2 2.7 -2.4 5.4 -1.6z"/>
<path fill="#0000e6" fill-rule="evenodd" d="M112 92l5 -.1 2 .7 2 1.6 1.2 1.8 .9 3 -.3 2 -1.3 2 -2.5 1.1 -4 .1 -3 -.9 -3.3 -2.3 -1.7 -3 .1 -3 1.8 -2 3.1 -1z"/>
<rect x="0" y="0" width="176" height="176" fill="url(#mesh)"/>
<g transform="translate(2.2,0)">
<line x1="1.9" y1="0" x2="154" y2="175" stroke="#fff6f0" stroke-width="1.25" stroke-opacity="0.8"/>
<line x1="0" y1="10" x2="144" y2="175" stroke="#fff6f0" stroke-width="1.25" stroke-opacity="0.8"/>
<line x1="0" y1="18" x2="137" y2="175" stroke="#fff6f0" stroke-width="1.25" stroke-opacity="0.8"/>
<line x1="0" y1="25" x2="131" y2="175" stroke="#fff6f0" stroke-width="1.25" stroke-opacity="0.8"/>
<line x1="0" y1="32" x2="125" y2="175" stroke="#fff6f0" stroke-width="1.25" stroke-opacity="0.8"/>
<line x1="0" y1="38" x2="119" y2="175" stroke="#fff6f0" stroke-width="1.25" stroke-opacity="0.8"/>
<line x1="21" y1="0" x2="168" y2="175" stroke="#fff6f0" stroke-width="1.25" stroke-opacity="0.8"/>
<line x1="27" y1="0" x2="171" y2="170.4" stroke="#fff6f0" stroke-width="1.25" stroke-opacity="0.8"/>
<line x1="33" y1="0" x2="171" y2="164.4" stroke="#fff6f0" stroke-width="1.25" stroke-opacity="0.8"/>
<line x1="39" y1="0" x2="171" y2="157.4" stroke="#fff6f0" stroke-width="1.25" stroke-opacity="0.8"/>
<line x1="45" y1="0" x2="171" y2="150.4" stroke="#fff6f0" stroke-width="1.25" stroke-opacity="0.8"/>
<line x1="51" y1="0" x2="171" y2="143.9" stroke="#fff6f0" stroke-width="1.25" stroke-opacity="0.8"/>
<line x1="57" y1="0" x2="171" y2="136.9" stroke="#fff6f0" stroke-width="1.25" stroke-opacity="0.8"/>
<line x1="63" y1="0" x2="171" y2="129.9" stroke="#fff6f0" stroke-width="1.25" stroke-opacity="0.8"/>
</g>
<line x1="15.7" y1="0" x2="163.2" y2="175" stroke="#4a2a9a" stroke-width="1.3"/>
<line x1="60.7" y1="0" x2="46" y2="176" stroke="#fff6e0" stroke-width="1.3"/>
</g>
<rect x="4.5" y="281.5" width="41" height="80.3" fill="#fff" stroke="#8a8a8a" stroke-width="0.9"/>
<text x="7.2" y="287.1" class="lt">Subsidence/m</text>
<rect x="6.9" y="288.3" width="4.6" height="6.4" fill="#eb1414"/>
<text x="13.4" y="293.5" class="lt">−4.35 × 10<tspan class="sp" dy="-2.2">-3</tspan></text>
<rect x="6.9" y="294.3" width="4.6" height="6.4" fill="#ee6114"/>
<text x="13.4" y="299.6" class="lt">−2.50 × 10<tspan class="sp" dy="-2.2">-2</tspan></text>
<rect x="6.9" y="300.4" width="4.6" height="6.4" fill="#f09e10"/>
<text x="13.4" y="305.7" class="lt">−5.00 × 10<tspan class="sp" dy="-2.2">-2</tspan></text>
<rect x="6.9" y="306.5" width="4.6" height="6.4" fill="#f0dd04"/>
<text x="13.4" y="311.7" class="lt">−7.50 × 10<tspan class="sp" dy="-2.2">-2</tspan></text>
<rect x="6.9" y="312.6" width="4.6" height="6.4" fill="#aaf000"/>
<text x="13.4" y="317.8" class="lt">−1.00 × 10<tspan class="sp" dy="-2.2">-1</tspan></text>
<rect x="6.9" y="318.7" width="4.6" height="6.4" fill="#36e806"/>
<text x="13.4" y="323.9" class="lt">−1.25 × 10<tspan class="sp" dy="-2.2">-1</tspan></text>
<rect x="6.9" y="324.7" width="4.6" height="6.4" fill="#01e64b"/>
<text x="13.4" y="330" class="lt">−1.50 × 10<tspan class="sp" dy="-2.2">-1</tspan></text>
<rect x="6.9" y="330.8" width="4.6" height="6.4" fill="#00e2ba"/>
<text x="13.4" y="336.1" class="lt">−1.75 × 10<tspan class="sp" dy="-2.2">-1</tspan></text>
<rect x="6.9" y="336.9" width="4.6" height="6.4" fill="#00b9f2"/>
<text x="13.4" y="342.1" class="lt">−2.00 × 10<tspan class="sp" dy="-2.2">-1</tspan></text>
<rect x="6.9" y="343" width="4.6" height="6.4" fill="#006ff5"/>
<text x="13.4" y="348.2" class="lt">−2.25 × 10<tspan class="sp" dy="-2.2">-1</tspan></text>
<rect x="6.9" y="349.1" width="4.6" height="6.4" fill="#002ff1"/>
<text x="13.4" y="354.3" class="lt">−2.50 × 10<tspan class="sp" dy="-2.2">-1</tspan></text>
<rect x="6.9" y="355.1" width="4.6" height="6.4" fill="#0000e6"/>
<text x="13.4" y="360.4" class="lt">−2.56 × 10<tspan class="sp" dy="-2.2">-1</tspan></text>
<text x="92.3" y="202" class="lab" text-anchor="middle">(d)</text>
<g transform="translate(187.5,187)" clip-path="url(#clp)">
<rect x="-2" y="-2" width="181" height="181" fill="#eb1414"/>
<path fill="#ee5714" fill-rule="evenodd" d="M-2 -2l180 0 0 69.1 -3.2 .9 -6.8 3 -3 2.5 -3.6 6.5 -2.6 10 .5 3 3.6 10 3.1 5 2.2 2 2.8 1.5 3 .8 4 .1 0 65.6 -180 0 0 -60.5 8 -.4 17 0 9 -1 5 -1.3 5 -2.5 7 -4.5 2.7 -2.8 3.8 -6 2.5 -2.4 14.5 -7.6 2.5 -2 -.1 -1 -1 -1 -19.9 -8.9 -4 -2.5 -4.6 -4.6 -6.4 -8.8 -3 -3.4 -17 -14.2 -4.4 -2.6 -4.6 -1.8 -12 -2.7 0 -37.5z"/>
<path fill="#f08b14" fill-rule="evenodd" d="M48.7 -2l129.3 0 0 57.7 -14 5.7 -2.3 1.6 -1.1 2 -2 7 -4.7 5 -.1 6 -2.3 9 .4 3 4.7 13 3.4 5 4 4.2 3 2 5 1.5 6 .5 0 56.8 -130.4 0 .9 -11 -.5 -12 .2 -7 2.5 -15 .5 -8 1 -4 1.9 -4 8.6 -14 5.3 -4.6 9 -4 5.2 -6.4 .9 -3 -.6 -2 -1.9 -2 -11.5 -6 -6.6 -5 -4 -5 -3 -6 -5.9 -19 -1.2 -6 -.5 -18 .9 -13 -.1 -5z"/>
<path fill="#f0bf0a" fill-rule="evenodd" d="M56.6 -2l121.4 0 0 47.8 -4 1.1 -4 2.2 -10.5 8.9 -1.8 3 -.7 7 -1.7 3 -2.3 .8 -5 -1.9 -1.4 1.1 -.7 2 .3 2 3.7 4 .9 2 -.1 3 -2.7 7 -.4 4 3.3 14 1.7 4 8.4 9.2 3 2.3 6 1.9 8 .8 0 50.8 -124.6 0 .9 -18 3.1 -30 .9 -6 1.4 -5 5.1 -10 3.9 -5 3.3 -2 7 -1.5 1.7 -1.5 1.8 -6 4.5 -6 .6 -2 -.7 -3 -2.1 -3 -10.6 -7 -5.2 -5 -2.4 -4 -5 -11 -2.1 -7 -1.3 -8 -1.6 -39z"/>
<path fill="#e8f000" fill-rule="evenodd" d="M64.4 -2l113.6 0 0 38.1 -8 2 -4 2.8 -2 2.7 -3.9 7.4 -5.1 7.3 -1 2.7 -.3 5 -.5 1 -1.2 0 -3 -1.4 -2 .5 -2 1.9 -1.7 4 -.1 2 .6 2 3.7 4 1 2 -.5 3 -3 6 -.8 4 1.3 17 .6 3 1.3 3 9.6 13 3 3.1 2 1.3 2 -.2 7 -3.3 7 -.8 0 13.4 -7 -.8 -7 -2.8 -1 .1 -1 .7 -1 1.6 -2.4 6.7 -2.9 12 -1.1 9 .1 7 -96.1 0 .5 -13 3.6 -15 1.2 -20 2.8 -12 2.3 -4.7 3 -3.8 2.3 -1.5 6.7 -2.3 3 -2.5 1 -2.8 -.3 -5.4 .6 -2 1.5 -2 3.7 -3 .8 -2 -.8 -5 -2.1 -4 -8.4 -5.6 -3.3 -3.4 -1.2 -4 .3 -2 1.4 -3 .2 -2 -1.3 -2 -7.1 -5.5 -2.3 -4.5 -1.2 -7 .6 -21 -1.7 -19z"/>
<path fill="#90ee00" fill-rule="evenodd" d="M78.5 -2l50.8 0 2.7 4 15 15.7 2.9 4.3 1.7 4 3.9 18 .1 3 -.4 3 -1.2 3 -4 7 -5 4.4 -1.9 2.6 -1.4 3 -.8 3 .1 2 .6 2 3.5 4 .7 2 -.6 2 -3.5 6 -.9 5 -.3 19 3.2 15 .3 5 -2.4 17 -1.7 26 -66.3 0 -1 -20 -.3 -20 .3 -9 .8 -6 1 -3 1.6 -3 8 -7.8 2.9 -4.2 .9 -4 -.7 -5 .4 -2 1.5 -1.7 4.5 -2.3 .9 -1 .5 -2 -1.2 -8 -1.7 -3.9 -2.4 -2.1 -6 -3 -1.6 -1.5 -.8 -1.5 .2 -2 .6 -1 3.7 -4 .3 -2 -.9 -3 -2.2 -3 -6.9 -6 -1.5 -2 -1.2 -3 -.2 -3 .4 -3 3.5 -9 .9 -4 -.5 -16 1.1 -8z"/>
<path fill="#2de807" fill-rule="evenodd" d="M117.4 12l4.6 .3 6 2.4 8 5.2 5 4.9 2.1 3.2 1.9 4.5 1.5 9.5 2.2 7 .1 3 -1.5 5 -5.5 8 -3.3 8 -.1 4 2.5 6 -.5 2 -2.9 5 -.9 4 .4 30 -.3 5 -2.3 8 -6.5 12 -2 5 -.6 4 -.2 11 -1.7 9 -30.8 0 -2.8 -20 -1.7 -6 -5.6 -16 -.7 -4 -.1 -5 .6 -4 1.2 -4 6.4 -14 .6 -3 -.1 -6 .6 -1 6 -2.9 1.2 -2.1 .2 -2 -1.3 -10 -1 -3 -2.1 -3.3 -4.8 -4.7 -.3 -1 2.2 -5 -1.1 -5 -3 -6.8 -4.1 -3.2 -1.6 -2 -.6 -2 0 -2 1.3 -3.3 4.6 -6.7 2.4 -6.1 3.3 -3.9 6.7 -4 5 -2.2 4 -.8 9.4 -1z"/>
<path fill="#03e644" fill-rule="evenodd" d="M110.7 24l7.3 -1 6 .8 6 2.4 5 3.8 2.5 3 1.5 3.2 1.1 8.8 2 10 -1.2 5 -8.9 19.8 -3 2.3 -7.7 1.9 -1.9 1 -.6 1 1.7 2 5.5 3.9 3 2.8 2 3.2 1.2 3.1 1.1 6 .3 10 -.4 7 -1.3 5 -3.2 6 -2.7 3.2 -3 2.5 -6 3.2 -3 .8 -4 .3 -4 -.5 -4 -1.5 -4 -2.4 -3 -2.7 -2.4 -2.9 -2.2 -4 -1.3 -4 -.4 -5 .8 -6 4.6 -16 1.2 -2 5.7 -5 1.1 -2 .4 -2 -1.4 -12 -4.2 -9 -.8 -8 -3.1 -8.5 -.3 -5.5 .4 -4 2.5 -5 6.4 -8 4 -3.2 4.7 -1.8z"/>
<path fill="#00e6a4" fill-rule="evenodd" d="M114.9 47l4.1 .1 2 .6 1.7 1.3 2.5 3 3 5 3.8 3.7 .3 2.3 -.9 2 -1.4 1.2 -7.5 3.8 -7.5 2.5 -5 .2 -3.2 -1.7 -3.1 -4 -1.1 -5 .2 -7 1.2 -3 3 -2.6 4 -1.7 3.9 -.7zM107 94l3 -.6 4 .3 4 1 4 1.7 3 2.1 2.3 2.5 1.6 3 1.2 4 .6 5 -.1 6 -.8 5 -1.6 4 -2.2 3.3 -3 3 -4 2.3 -4 1.2 -3 .2 -4 -.4 -4 -1.4 -3 -1.7 -3 -2.6 -2.2 -2.9 -1.5 -3 -1.2 -4 -.2 -4 .4 -4 1.5 -6 1.8 -5 3.4 -4.2 4 -3.1 3 -1.7z"/>
<path fill="#00d5f0" fill-rule="evenodd" d="M107.9 98l3.1 -.5 3 .2 4 1.1 3 1.5 4 3.8 1.6 2.9 .9 3 .5 4 -.1 4 -.7 4 -1.2 3 -2 3 -2 2 -3 2 -3 1 -3 .5 -3 -.2 -3 -.8 -3 -1.5 -4.4 -4 -1.8 -3 -1.1 -3 -.5 -3 .1 -4 .8 -4 1.4 -4 3.5 -4.6 3 -2.2 2.9 -1.2z"/>
<path fill="#0097f5" fill-rule="evenodd" d="M110.7 101l5.3 .6 4.4 2.4 3.2 4 1.5 5 -.2 6 -2.1 5 -3.8 3.8 -5 1.7 -5 -.5 -3 -1.3 -2 -1.4 -3.3 -4.3 -1.4 -5 .5 -6 2.3 -5 3.9 -3.5 4.7 -1.5z"/>
<path fill="#0058f5" fill-rule="evenodd" d="M108.7 105l3.3 -.6 4 .8 3 2.1 2.4 3.7 .8 5 -1 4 -2.2 3.2 -3 1.9 -3 .6 -4 -.7 -3.1 -2 -2.7 -4 -.8 -4 .7 -4 1.9 -3.4 3.7 -2.6z"/>
<path fill="#0026f0" fill-rule="evenodd" d="M110.2 109l2.8 -.3 2 .7 1.9 1.6 1 2 .3 3 -.6 2 -1.6 2 -2 1 -2 .2 -2 -.6 -2 -1.6 -1.1 -2 -.4 -3 .6 -2 1.5 -2 1.6 -1z"/>
<rect x="0" y="0" width="176" height="176" fill="url(#mesh)"/>
<g transform="translate(2.2,0)">
<line x1="1.9" y1="0" x2="154" y2="175" stroke="#fff6f0" stroke-width="1.25" stroke-opacity="0.8"/>
<line x1="0" y1="10" x2="144" y2="175" stroke="#fff6f0" stroke-width="1.25" stroke-opacity="0.8"/>
<line x1="0" y1="18" x2="137" y2="175" stroke="#fff6f0" stroke-width="1.25" stroke-opacity="0.8"/>
<line x1="0" y1="25" x2="131" y2="175" stroke="#fff6f0" stroke-width="1.25" stroke-opacity="0.8"/>
<line x1="0" y1="32" x2="125" y2="175" stroke="#fff6f0" stroke-width="1.25" stroke-opacity="0.8"/>
<line x1="0" y1="38" x2="119" y2="175" stroke="#fff6f0" stroke-width="1.25" stroke-opacity="0.8"/>
<line x1="21" y1="0" x2="168" y2="175" stroke="#fff6f0" stroke-width="1.25" stroke-opacity="0.8"/>
<line x1="27" y1="0" x2="171" y2="170.4" stroke="#fff6f0" stroke-width="1.25" stroke-opacity="0.8"/>
<line x1="33" y1="0" x2="171" y2="164.4" stroke="#fff6f0" stroke-width="1.25" stroke-opacity="0.8"/>
<line x1="39" y1="0" x2="171" y2="157.4" stroke="#fff6f0" stroke-width="1.25" stroke-opacity="0.8"/>
<line x1="45" y1="0" x2="171" y2="150.4" stroke="#fff6f0" stroke-width="1.25" stroke-opacity="0.8"/>
<line x1="51" y1="0" x2="171" y2="143.9" stroke="#fff6f0" stroke-width="1.25" stroke-opacity="0.8"/>
<line x1="57" y1="0" x2="171" y2="136.9" stroke="#fff6f0" stroke-width="1.25" stroke-opacity="0.8"/>
<line x1="63" y1="0" x2="171" y2="129.9" stroke="#fff6f0" stroke-width="1.25" stroke-opacity="0.8"/>
</g>
<line x1="15.7" y1="0" x2="163.2" y2="175" stroke="#4a2a9a" stroke-width="1.3"/>
<line x1="61.9" y1="0" x2="46" y2="176" stroke="#fff6e0" stroke-width="1.3"/>
</g>
<rect x="188" y="270.2" width="41" height="91.9" fill="#fff" stroke="#8a8a8a" stroke-width="0.9"/>
<text x="190.7" y="275.8" class="lt">Subsidence/m</text>
<rect x="190.4" y="276.3" width="4.6" height="6.4" fill="#eb1414"/>
<text x="196.9" y="281.5" class="lt">−5.53 × 10<tspan class="sp" dy="-2.2">-3</tspan></text>
<rect x="190.4" y="282.3" width="4.6" height="6.4" fill="#ee5714"/>
<text x="196.9" y="287.6" class="lt">−2.50 × 10<tspan class="sp" dy="-2.2">-2</tspan></text>
<rect x="190.4" y="288.4" width="4.6" height="6.4" fill="#f08b14"/>
<text x="196.9" y="293.7" class="lt">−5.00 × 10<tspan class="sp" dy="-2.2">-2</tspan></text>
<rect x="190.4" y="294.5" width="4.6" height="6.4" fill="#f0bf0a"/>
<text x="196.9" y="299.8" class="lt">−7.50 × 10<tspan class="sp" dy="-2.2">-2</tspan></text>
<rect x="190.4" y="300.6" width="4.6" height="6.4" fill="#e8f000"/>
<text x="196.9" y="305.9" class="lt">−1.00 × 10<tspan class="sp" dy="-2.2">-1</tspan></text>
<rect x="190.4" y="306.7" width="4.6" height="6.4" fill="#90ee00"/>
<text x="196.9" y="311.9" class="lt">−1.25 × 10<tspan class="sp" dy="-2.2">-1</tspan></text>
<rect x="190.4" y="312.8" width="4.6" height="6.4" fill="#2de807"/>
<text x="196.9" y="318" class="lt">−1.50 × 10<tspan class="sp" dy="-2.2">-1</tspan></text>
<rect x="190.4" y="318.9" width="4.6" height="6.4" fill="#03e644"/>
<text x="196.9" y="324.1" class="lt">−1.75 × 10<tspan class="sp" dy="-2.2">-1</tspan></text>
<rect x="190.4" y="325" width="4.6" height="6.4" fill="#00e6a4"/>
<text x="196.9" y="330.2" class="lt">−2.00 × 10<tspan class="sp" dy="-2.2">-1</tspan></text>
<rect x="190.4" y="331.1" width="4.6" height="6.4" fill="#00d5f0"/>
<text x="196.9" y="336.3" class="lt">−2.25 × 10<tspan class="sp" dy="-2.2">-1</tspan></text>
<rect x="190.4" y="337.2" width="4.6" height="6.4" fill="#0097f5"/>
<text x="196.9" y="342.4" class="lt">−2.50 × 10<tspan class="sp" dy="-2.2">-1</tspan></text>
<rect x="190.4" y="343.2" width="4.6" height="6.4" fill="#0058f5"/>
<text x="196.9" y="348.5" class="lt">−2.75 × 10<tspan class="sp" dy="-2.2">-1</tspan></text>
<rect x="190.4" y="349.3" width="4.6" height="6.4" fill="#0026f0"/>
<text x="196.9" y="354.6" class="lt">−3.00 × 10<tspan class="sp" dy="-2.2">-1</tspan></text>
<rect x="190.4" y="355.4" width="4.6" height="6.4" fill="#0000e6"/>
<text x="196.9" y="360.7" class="lt">−3.07 × 10<tspan class="sp" dy="-2.2">-1</tspan></text>
<text x="275.8" y="202" class="lab" text-anchor="middle">(e)</text>
<g transform="translate(371,187)" clip-path="url(#clp)">
<rect x="-2" y="-2" width="181" height="181" fill="#eb1414"/>
<path fill="#ed4714" fill-rule="evenodd" d="M-2 -2l180 0 0 83.7 -.7 1.3 -.3 2 1 3 0 90 -180 0 0 -180zM69 74.9l-6.5 3.1 -1 1 -.7 2 1.7 3 6.5 5 2.6 1 13.4 3 8 -.7 2 -1.1 1 -1.2 .1 -3 -1.4 -2 -1.6 -1 -9.1 -3.1 -6 -5.1 -2 -1.1 -3 -.6 -4 .8z"/>
<path fill="#ef7314" fill-rule="evenodd" d="M-2 -2l180 0 0 69.6 -3 1.2 -3 1.9 -4 4.1 -2.6 6.2 -1.1 7 1 7 2.7 5.3 4 3.2 6 1.5 0 73 -180 0 0 -180zM27 129.9l-3 2.7 -3.8 6.4 -1.9 6 -.4 5 1.1 7 3 7.7 3 4.6 1 .8 2 .6 2 -.8 2 -3.6 1 -5.3 .3 -8 -.5 -6 -2.6 -15 -1.2 -2.2 -2 .1zM41 68.9l-2.5 1.1 -1.7 2 -2.9 7 -1.4 5 -.1 3 .9 3 1.7 2.2 3 1.6 4 .4 17 -1.3 3 .5 8 2.7 7 -.1 9 1.2 7 -.4 3.9 -.8 3.1 -1.8 3 -2.8 1.3 -2.4 -.3 -4.8 -1 -2.2 -1 -1 -7 .1 -7 -1.6 -3 -1.8 -6 -6.4 -3 -1.9 -4 -.4 -11 .9 -20 -1z"/>
<path fill="#f09a11" fill-rule="evenodd" d="M-2 -2l180 0 0 61.1 -4 1.9 -5 3.2 -3.5 2.8 -2.6 3 -2.1 4 -1.8 5 -1.8 12 .3 3 1.6 4 2.5 5 2.3 3 3.1 2.5 3 1.6 8 2.3 0 65.6 -135.2 0 1.3 -19 -.9 -25 1.2 -12 .1 -6 -1.2 -5 -1.3 -2.1 -4.1 -3.9 -.9 -2 .3 -1 1 -1 2.6 -1 17.1 -2.9 4 .3 8 1.9 8 -.5 8 .5 11 -1.1 6 -3.2 3.8 -4 1.1 -4 -.4 -5 -1.5 -3.2 -1 -1 -2 -.9 -2 .2 -4 1.7 -2 .4 -3 -.3 -3 -1 -3.8 -2.9 -5.2 -6.6 -2 -1.4 -2 -.8 -5 -.6 -12 .2 -20 -2.5 -4 .1 -2 1.1 -4 4.7 -2 1.7 -9 4 -1.5 1.1 -1.3 3 -.2 5 .8 5 3.1 9 -.1 3 -2.4 3 -9.4 6.5 -9 6.9 0 -44.4 11 -.1 4 -.9 2 -2.1 3.2 -4.9 5.8 -6.2 1.1 -1.8 .4 -2 -.2 -2 -1.4 -3 -6.1 -8 -6.2 -10 -5.2 -6 -4.4 -6.1 -2 -1.8 -2 -.7 0 -19.4z"/>
<path fill="#f0c209" fill-rule="evenodd" d="M-2 -2l180 0 0 51.8 -4.8 2.2 -6.2 4.4 -7 6.9 -3.6 4.7 -2.4 4.2 -1.4 3.8 -.7 9 -1.3 8 .4 2 3.8 7 1.1 8 1.1 1.8 11 5.6 10 3.2 0 57.4 -129 0 1.1 -17 -1.1 -28 .7 -15 -.7 -12 .4 -2 2.6 -2.6 5 -1.5 4 .1 6 1.2 4 .2 23 -1 5 -1.1 6 -3.6 4 -4.3 1.2 -2.4 .6 -3 -.4 -5 -.8 -2 -1.6 -2.3 -2 -1.5 -2 -.6 -2 .1 -5 2.5 -2 .5 -2 -.1 -3 -1 -3.3 -2.6 -5.7 -7.3 -2 -1.5 -3 -1.3 -7 -1.3 -14 -.3 -6 -1.6 -5.2 -2.7 -3.1 -3 -5.1 -8 -14.6 -18 -11.2 -15 -3.8 -2.5 -8 -1.2 0 -12.3z"/>
<path fill="#f0ec01" fill-rule="evenodd" d="M15.7 -2l162.3 0 0 45 -9 4.8 -6 4.7 -9 11.4 -4 5.8 -2 3.9 -.6 3.4 .4 8 -1 9 .5 2 3 5 1.1 3 .2 3 -.5 6 .7 3 3.2 4.7 12 11.5 3.6 2.8 .3 1 -1.9 6.5 0 4.5 1.5 4 4.8 8 .6 3 -.4 3 -3.1 9 -.8 4 -116.8 0 .3 -19 -1.3 -29 .1 -23 .9 -3 1.2 -.9 2 -.5 13 .7 16 -1.3 8 -.3 4 -.8 6.9 -3.9 5 -5 1.7 -3 1 -3 0 -5 -1.2 -3 -1.5 -2 -4.2 -3 -3.7 -.5 -7 3.6 -2 .3 -1.8 -.4 -3.2 -2 -3.7 -5 -3.3 -3.5 -5 -3.4 -5 -1.9 -5 -1.1 -11 -.3 -4 -1.9 -2.8 -2.9 -1.8 -3 -.7 -3 .5 -5 -.3 -2 -1.9 -2.8 -4 -3 -.3 -5.2 -1.2 -3 -1.5 -1.6 -3.7 -2.4 -.8 -1 -1.3 -6 -2.2 -2.8 -4.3 -3.2 -1 -5 -1.7 -2.9 -2 -1.5 -4.2 -1.6 -1.1 -1z"/>
<path fill="#b7f000" fill-rule="evenodd" d="M36.9 -2l141.1 0 0 32.8 -2 1.7 -5.9 7.5 -8.1 7.1 -2.6 2.9 -5 8 -8.1 11 -1.9 4 -.6 3 .9 10 -.2 9 4.6 10 -.1 9 .5 4 1.9 5 5.4 9 1.5 5 .2 13 2.8 14 -.1 5 -1.3 9 -99.7 0 0 -19 -2 -24 .3 -12 -.4 -11 .9 -4.4 1 -.9 2.3 -.7 11.7 -1 12 -1.8 10 -.2 5 -1.3 7 -4.6 5.1 -5.1 3 -5 .8 -5 -1.1 -4 -2.2 -3 -3.6 -3 -4 -1.8 -2 -.3 -2 .5 -4 3.3 -2 1.1 -2 .2 -2 -.7 -1.6 -1.3 -3.4 -5 -7 -6.1 -5 -3.2 -9.1 -4.7 -2.6 -2 -2.7 -4 -2.4 -5 -2.4 -11 -3.2 -8 -1.5 -7 -1.1 -3.1 -4.8 -7.9 -6.2 -5.4 -2.1 -2.6z"/>
<path fill="#6eec00" fill-rule="evenodd" d="M72.7 -2l76.5 0 2.8 2.7 10 6.2 1.9 2.1 1 2 .7 3 .2 12 -.5 5 -1.1 4 -2 4 -6.2 8 -5 10 -7.9 11 -1.9 4 -.9 4 .3 4 1.5 7 .5 9 4.8 10 .3 3 -.5 7 .3 5 4 14 1 7 .5 20 -.7 6 -2 10 -83.9 0 -.6 -19 -2.6 -23 .8 -12 -.7 -10 .9 -3 1.8 -1.6 2 -.9 15 -3.6 5 -.7 9 .2 5 -1.6 7.1 -4.8 6.4 -6 3.7 -5 1.1 -3 .2 -2 -.5 -3 -1.6 -3 -2.6 -3 -2.8 -2.2 -9.6 -4.8 -4.4 -3.8 -2 -.8 -3 .5 -4 3.5 -2 .2 -2 -.8 -15.9 -13.8 -3.9 -5 -1.8 -4 -1.2 -5 -1 -8 .3 -5 1.4 -6 2.5 -7 6.3 -13zM92.9 69l2.1 -.4 2 .3 1.1 1.1 0 1 -1.9 2 -2.2 .2 -1.7 -1.2 -.4 -1 .1 -1.1 .9 -.9z"/>
<path fill="#21e708" fill-rule="evenodd" d="M103 2l21 -.8 5 .7 5 1.8 6.3 4.3 7.7 7.5 3 4.8 2.2 6.7 .5 4 -.3 4 -4.8 16 -1.8 4 -8.7 15 -1.6 4 -.6 3 .5 4 2.9 7 1.2 8 4.8 9 .8 4 -1 11 -.2 9 .4 8 2 11 .1 4 -2.4 10.1 -5.7 15.9 -62.8 0 -1.5 -6.5 -4.5 -33.5 .2 -4 1.6 -8 -.1 -4 -.9 -6 .4 -3 1.7 -2 1.7 -1 8.9 -3.9 4 -.6 9 .5 3 -.7 3 -1.4 8.2 -5.9 9.2 -8 3.4 -4 1.5 -4 -.1 -2 -1.3 -3 -2.2 -3 -2.9 -3 -3.8 -2.6 -9 -4.6 -6 -4 -3 -1 -2 .1 -2 .8 -4 3 -2 .2 -2 -1.1 -2.8 -2.8 -4.4 -6 -5.6 -9 -1.7 -4 -.6 -6 1 -6 3.1 -6.3 5 -6.7 5.1 -5 5.9 -4 6 -2.6 7 -1.4z"/>
<path fill="#06e63b" fill-rule="evenodd" d="M107.5 14l5.5 -.7 5 .3 6 1.1 4 1.6 4 2.7 3 3 2.8 4 1.9 4 1.4 5 .7 6 -.1 6 -.8 5 -1.9 6.2 -2 4.5 -4 5.8 -3 2.5 -3 -.2 -8 -5 -11 -4.4 -10 -5.4 -2 -.4 -2 .2 -2 1 -3 2.3 -2 .5 -2 -1.5 -1.6 -3.1 -.8 -5 1.4 -7 .8 -7 1.2 -4 2.1 -4 4.4 -6 4.5 -4 4 -2.1 6.5 -1.9zM129.1 88l1.9 -.5 2 .3 2.6 2.2 3.4 8 4.8 8 .8 3 -.2 3 -1.4 6.8 -2.9 10.2 -4.1 8.6 -2 2.9 -2 2 -3 1.3 -4 0 -9 -2.3 -8 -2.7 -20 -10.1 -6 -5.1 -3 -3.6 -1.2 -3 -.1 -3 1.7 -3 2.5 -2 5.1 -2 9 .8 5 -1.1 4 -2.3 16 -11.8 8.1 -4.6z"/>
<path fill="#00e681" fill-rule="evenodd" d="M109.9 37l4.1 0 4 1.2 3.5 2.8 2.4 4 .8 4 -.8 4 -2.7 3 -3.2 1.8 -5 .7 -6 -1.6 -4.6 -2.9 -2.7 -4 0 -4 2.3 -4.5 4 -3.3 3.9 -1.2zM127.3 93l3.7 .1 3 1.8 7.2 10.1 1.4 3 .3 2 -.4 3 -1.5 5 -3 6.9 -4 5.1 -4 2.9 -4 1.4 -4 .3 -5 -.6 -5 -1.4 -5 -2.3 -10 -6.1 -10 -4.1 -2.7 -2.1 -1.3 -1.9 -.4 -2.1 .6 -2 2.8 -2.5 3 -.6 7 1.3 4 -.8 3 -1.7 15 -10.9 5 -2.5 4.3 -1.3z"/>
<path fill="#00e0c5" fill-rule="evenodd" d="M122.2 97l5.8 -.8 3 .8 2 1.3 3 3.2 3.3 4.5 1.3 3 .1 2 -.7 3.3 -2 4.9 -2 3.3 -3 3.5 -3 2.2 -3 1.3 -3 .7 -4 .1 -6 -1.2 -6.3 -3.1 -7 -6 -1.5 -2 -.6 -2 1.8 -3 9.9 -9 6.7 -4.6 5.2 -2.4z"/>
<path fill="#00caf1" fill-rule="evenodd" d="M123.6 99l2.4 -.1 3 .6 2.8 1.5 2.2 1.9 3.5 5.1 .6 2 -.3 3 -1.5 4 -1.8 3 -2.5 2.8 -3 2.2 -3 1.3 -3 .7 -3 0 -4 -.6 -5 -2.2 -4 -3.2 -2.4 -4 0 -3 .8 -2 2.1 -3 5.4 -5 5.1 -3.2 5.6 -1.8z"/>
<path fill="#009af5" fill-rule="evenodd" d="M120.3 102l4.7 -.6 2.8 .6 2 1 2.2 1.8 1.7 2.2 1.3 4 -1 4.4 -3 4.4 -4 2.9 -5 1.3 -5 -.4 -4 -1.7 -3.3 -2.9 -1.2 -2 -.5 -2 .5 -3 2.6 -4 4.8 -4 4.4 -2z"/>
<path fill="#006bf5" fill-rule="evenodd" d="M118.7 105l3.3 -.9 4 .4 3 1.8 2 2.7 .5 3 -.8 3 -2.3 3 -3.4 2.2 -4 .8 -4 -.6 -3 -1.7 -2.1 -2.7 -.4 -3 1.1 -3 2.7 -3 3.4 -2z"/>
<path fill="#0040f3" fill-rule="evenodd" d="M119.3 108l3.7 -.5 3 1.5 1.1 2 -.1 2 -2.1 3 -2 1 -2.9 .3 -2 -.6 -2 -1.7 -.5 -2 .5 -2 1.6 -2 1.7 -1z"/>
<rect x="0" y="0" width="176" height="176" fill="url(#mesh)"/>
<g transform="translate(2.2,0)">
<line x1="1.9" y1="0" x2="154" y2="175" stroke="#fff6f0" stroke-width="1.25" stroke-opacity="0.8"/>
<line x1="0" y1="10" x2="144" y2="175" stroke="#fff6f0" stroke-width="1.25" stroke-opacity="0.8"/>
<line x1="0" y1="18" x2="137" y2="175" stroke="#fff6f0" stroke-width="1.25" stroke-opacity="0.8"/>
<line x1="0" y1="25" x2="131" y2="175" stroke="#fff6f0" stroke-width="1.25" stroke-opacity="0.8"/>
<line x1="0" y1="32" x2="125" y2="175" stroke="#fff6f0" stroke-width="1.25" stroke-opacity="0.8"/>
<line x1="0" y1="38" x2="119" y2="175" stroke="#fff6f0" stroke-width="1.25" stroke-opacity="0.8"/>
<line x1="21" y1="0" x2="168" y2="175" stroke="#fff6f0" stroke-width="1.25" stroke-opacity="0.8"/>
<line x1="27" y1="0" x2="171" y2="170.4" stroke="#fff6f0" stroke-width="1.25" stroke-opacity="0.8"/>
<line x1="33" y1="0" x2="171" y2="164.4" stroke="#fff6f0" stroke-width="1.25" stroke-opacity="0.8"/>
<line x1="39" y1="0" x2="171" y2="157.4" stroke="#fff6f0" stroke-width="1.25" stroke-opacity="0.8"/>
<line x1="45" y1="0" x2="171" y2="150.4" stroke="#fff6f0" stroke-width="1.25" stroke-opacity="0.8"/>
<line x1="51" y1="0" x2="171" y2="143.9" stroke="#fff6f0" stroke-width="1.25" stroke-opacity="0.8"/>
<line x1="57" y1="0" x2="171" y2="136.9" stroke="#fff6f0" stroke-width="1.25" stroke-opacity="0.8"/>
<line x1="63" y1="0" x2="171" y2="129.9" stroke="#fff6f0" stroke-width="1.25" stroke-opacity="0.8"/>
</g>
<line x1="15.7" y1="0" x2="163.2" y2="175" stroke="#4a2a9a" stroke-width="1.3"/>
<line x1="61.3" y1="0" x2="46" y2="176" stroke="#fff6e0" stroke-width="1.3"/>
</g>
<rect x="371.5" y="245.7" width="41" height="116.4" fill="#fff" stroke="#8a8a8a" stroke-width="0.9"/>
<text x="374.2" y="251.3" class="lt">Subsidence/m</text>
<rect x="373.9" y="252.6" width="4.6" height="6.3" fill="#eb1414"/>
<text x="380.4" y="257.8" class="lt">4.68 × 10<tspan class="sp" dy="-2.2">-3</tspan></text>
<rect x="373.9" y="258.6" width="4.6" height="6.3" fill="#ed4714"/>
<text x="380.4" y="263.8" class="lt">0</text>
<rect x="373.9" y="264.7" width="4.6" height="6.3" fill="#ef7314"/>
<text x="380.4" y="269.9" class="lt">−5.00 × 10<tspan class="sp" dy="-2.2">-2</tspan></text>
<rect x="373.9" y="270.7" width="4.6" height="6.3" fill="#f09a11"/>
<text x="380.4" y="275.9" class="lt">−1.00 × 10<tspan class="sp" dy="-2.2">-1</tspan></text>
<rect x="373.9" y="276.8" width="4.6" height="6.3" fill="#f0c209"/>
<text x="380.4" y="282" class="lt">−1.50 × 10<tspan class="sp" dy="-2.2">-1</tspan></text>
<rect x="373.9" y="282.8" width="4.6" height="6.3" fill="#f0ec01"/>
<text x="380.4" y="288.1" class="lt">−2.00 × 10<tspan class="sp" dy="-2.2">-1</tspan></text>
<rect x="373.9" y="288.9" width="4.6" height="6.3" fill="#b7f000"/>
<text x="380.4" y="294.1" class="lt">−2.50 × 10<tspan class="sp" dy="-2.2">-1</tspan></text>
<rect x="373.9" y="294.9" width="4.6" height="6.3" fill="#6eec00"/>
<text x="380.4" y="300.1" class="lt">−3.00 × 10<tspan class="sp" dy="-2.2">-1</tspan></text>
<rect x="373.9" y="301" width="4.6" height="6.3" fill="#21e708"/>
<text x="380.4" y="306.2" class="lt">−3.50 × 10<tspan class="sp" dy="-2.2">-1</tspan></text>
<rect x="373.9" y="307" width="4.6" height="6.3" fill="#06e63b"/>
<text x="380.4" y="312.2" class="lt">−4.00 × 10<tspan class="sp" dy="-2.2">-1</tspan></text>
<rect x="373.9" y="313.1" width="4.6" height="6.3" fill="#00e681"/>
<text x="380.4" y="318.3" class="lt">−4.50 × 10<tspan class="sp" dy="-2.2">-1</tspan></text>
<rect x="373.9" y="319.1" width="4.6" height="6.3" fill="#00e0c5"/>
<text x="380.4" y="324.3" class="lt">−5.00 × 10<tspan class="sp" dy="-2.2">-1</tspan></text>
<rect x="373.9" y="325.2" width="4.6" height="6.3" fill="#00caf1"/>
<text x="380.4" y="330.4" class="lt">−5.50 × 10<tspan class="sp" dy="-2.2">-1</tspan></text>
<rect x="373.9" y="331.2" width="4.6" height="6.3" fill="#009af5"/>
<text x="380.4" y="336.4" class="lt">−6.00 × 10<tspan class="sp" dy="-2.2">-1</tspan></text>
<rect x="373.9" y="337.3" width="4.6" height="6.3" fill="#006bf5"/>
<text x="380.4" y="342.5" class="lt">−6.50 × 10<tspan class="sp" dy="-2.2">-1</tspan></text>
<rect x="373.9" y="343.3" width="4.6" height="6.3" fill="#0040f3"/>
<text x="380.4" y="348.6" class="lt">−7.00 × 10<tspan class="sp" dy="-2.2">-1</tspan></text>
<rect x="373.9" y="349.4" width="4.6" height="6.3" fill="#001ded"/>
<text x="380.4" y="354.6" class="lt">−7.50 × 10<tspan class="sp" dy="-2.2">-1</tspan></text>
<rect x="373.9" y="355.4" width="4.6" height="6.3" fill="#0000e6"/>
<text x="380.4" y="360.6" class="lt">−7.52 × 10<tspan class="sp" dy="-2.2">-1</tspan></text>
<text x="459.3" y="202" class="lab" text-anchor="middle">(f)</text>
<rect x="4.5" y="4.5" width="175" height="175" fill="none" stroke="#6e6e6e" stroke-width="1"/>
<rect x="188" y="4.5" width="175" height="175" fill="none" stroke="#6e6e6e" stroke-width="1"/>
<rect x="371.5" y="4.5" width="175" height="175" fill="none" stroke="#6e6e6e" stroke-width="1"/>
<rect x="4.5" y="187.5" width="175" height="175" fill="none" stroke="#6e6e6e" stroke-width="1"/>
<rect x="188" y="187.5" width="175" height="175" fill="none" stroke="#6e6e6e" stroke-width="1"/>
<rect x="371.5" y="187.5" width="175" height="175" fill="none" stroke="#6e6e6e" stroke-width="1"/>
</svg></body></html>
